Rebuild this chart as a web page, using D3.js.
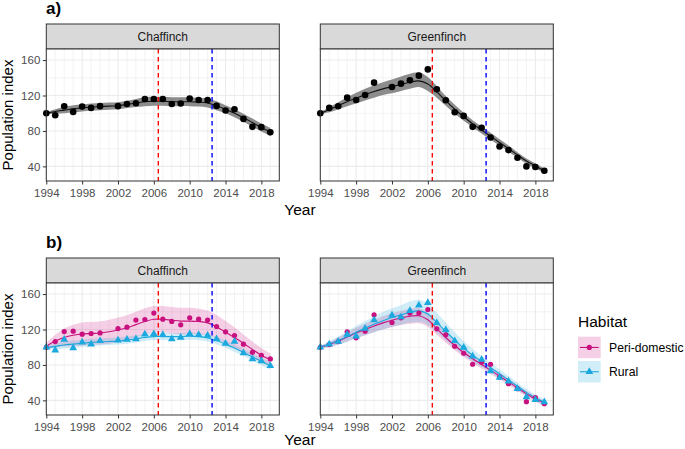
<!DOCTYPE html>
<html>
<head>
<meta charset="utf-8">
<script src="https://cdn.jsdelivr.net/npm/d3@7"></script>
<style>
  body { margin: 0; background: #fff; }
  svg text { font-family: "Liberation Sans", Arial, sans-serif; }
</style>
</head>
<body>
<div id="chart"></div>
<script>
// years of the smoothed trend and of the yearly indices (no survey in 2001)
const years = [1994, 1995, 1996, 1997, 1998, 1999, 2000, 2001, 2002, 2003, 2004, 2005, 2006,
               2007, 2008, 2009, 2010, 2011, 2012, 2013, 2014, 2015, 2016, 2017, 2018, 2019];
const ptYears = [1994, 1995, 1996, 1997, 1998, 1999, 2000, 2002, 2003, 2004, 2005, 2006,
                 2007, 2008, 2009, 2010, 2011, 2012, 2013, 2014, 2015, 2016, 2017, 2018, 2019];
const xTicks = [1994, 1998, 2002, 2006, 2010, 2014, 2018];
const yTicks = [40, 80, 120, 160];
const species = ["Chaffinch", "Greenfinch"];
const habitats = ["Peri-domestic", "Rural"];
const breakYears = [2006.5, 2012.5];

// a) all habitats
const chafPts = [100, 97.8, 107.9, 101.5, 107.5, 106, 108, 108, 110.5, 111.3, 116.1, 116, 116,
                 110.5, 110.9, 116.5, 115, 115, 108.3, 103, 104.5, 93.6, 84.6, 84.3, 78.6];
const chafFit = [100, 102, 103.5, 105, 106, 107, 107.5, 108, 108.5, 110, 111.5, 113, 113.5,
                 113.5, 113, 113, 113, 112.5, 111.5, 108.5, 104.5, 100, 95, 89.5, 84, 79];
const chafLo = [99, 99.5, 100, 101, 102, 103, 103.5, 104, 104.5, 106, 107, 108, 108.5,
                108.5, 108, 108, 108, 107.5, 106.5, 103.5, 100, 95.5, 90.5, 85, 79.5, 74.5];
const chafHi = [101, 104.5, 107, 109, 110, 111, 111.5, 112, 112.5, 114, 116, 118, 118.5,
                118.5, 118, 118, 118, 117.5, 116.5, 113.5, 109, 104.5, 99.5, 94, 88.5, 83.5];

const greenPts = [100, 106, 107.9, 117.6, 115, 120.6, 134.5, 129.6, 133.4, 137.1, 142.4, 149.5,
                  127, 114.6, 101.1, 97, 84.6, 83.5, 72.6, 62.5, 58.4, 49.8, 40, 39.3, 35.1];
const greenFit = [100, 104, 108.5, 113, 117, 121, 124.5, 127.5, 130, 132.5, 135, 136.5, 133,
                  124, 114, 104.5, 96, 88, 81, 74, 67, 60, 53, 46, 40.5, 35];
const greenLo = [99, 101, 104.5, 108, 111, 114.5, 117.5, 120.5, 122.5, 125, 127.5, 129.5, 125,
                 117.5, 108.5, 99.5, 91.5, 84, 77, 70, 63.5, 56.5, 50, 43, 37.5, 32.5];
const greenHi = [101, 107, 112.5, 118, 123, 127.5, 131.5, 135, 138, 141.5, 144.5, 146, 141,
                 130.5, 119.5, 109.5, 100.5, 92, 85, 78, 70.5, 63.5, 56, 49, 43.5, 37.5];

// b) by habitat
const chafPeriPts = [100, 106.4, 117.7, 118.1, 114.7, 115.5, 116.2, 121.1, 122.6, 130.6, 131.3, 138.5,
                     131.7, 129.1, 125.3, 133.2, 131.7, 130.6, 123.4, 117.4, 113.2, 103.4, 94.3, 90.9, 86.8];
const chafPeriFit = [101, 107, 111, 113.5, 115, 115.5, 116, 117.5, 119.5, 122, 125.5, 129, 131.5,
                     131.5, 130.5, 129.5, 129.5, 129, 127.5, 123, 117, 111, 104.5, 97.5, 91, 86];
const chafPeriLo = [97, 100, 101, 101.5, 102, 102.5, 103, 104, 105.5, 108, 111, 114, 116.5,
                    116.5, 115.5, 114.5, 114.5, 114.5, 113.5, 109.5, 104.5, 99.5, 94.5, 88.5, 83, 79];
const chafPeriHi = [105, 114, 121, 125.5, 128, 128.5, 129, 131, 133.5, 136, 140, 144, 146.5,
                    146.5, 145.5, 144.5, 144.5, 143.5, 141.5, 136.5, 129.5, 122.5, 114.5, 106.5, 99, 93];

const chafRurPts = [100, 96.6, 108.7, 99.2, 105.7, 103.4, 107.2, 107.9, 108.7, 109.4, 114.7, 115.1,
                    114, 109.4, 110.9, 115.1, 114, 113.2, 109.4, 104.2, 106.4, 93.6, 86.8, 84.5, 79.2];
const chafRurFit = [99.5, 101, 102.5, 103.5, 104.5, 105.5, 106, 106.5, 107, 108, 109.5, 111, 112,
                    112, 112, 112, 112.5, 112, 110.5, 107.5, 103.5, 99, 94, 89, 84, 79];
const chafRurLo = [97.5, 97.5, 98.5, 99.5, 100.5, 101.5, 102, 102.5, 103, 104, 105.5, 107, 108,
                   108, 108, 108, 108.5, 108, 106.5, 103.5, 99.5, 95, 90, 85, 80, 74.5];
const chafRurHi = [101.5, 104.5, 106.5, 107.5, 108.5, 109.5, 110, 110.5, 111, 112, 113.5, 115, 116,
                   116, 116, 116, 116.5, 116, 114.5, 111.5, 107.5, 103, 98, 93, 88, 83.5];

const greenPeriPts = [100, 103, 106.4, 117.4, 110.6, 118.1, 136.6, 127.9, 133.2, 138.5, 138.5, 142.6,
                      120.8, 114, 101.1, 93.2, 80.8, 83, 80.8, 66.4, 58.9, 53.2, 38.5, 43, 36.2];
const greenPeriFit = [100, 103, 107, 111.5, 116, 120, 124, 127.5, 130.5, 133, 135, 135.5, 131,
                      121, 111, 102, 94, 87, 80.5, 74, 67.5, 61, 54, 47.5, 41.5, 37];
const greenPeriLo = [98.5, 100, 103, 106.5, 110, 113.5, 117, 120, 122.5, 125, 126.5, 127, 123,
                     114, 105, 96.5, 89, 82.5, 76, 70, 63.5, 57.5, 50.5, 44.5, 38.5, 34];
const greenPeriHi = [101.5, 106, 111, 116.5, 122, 126.5, 131, 135, 138.5, 141, 143.5, 144, 139,
                     128, 117, 107.5, 99, 91.5, 85, 78, 71.5, 64.5, 57.5, 50.5, 44.5, 40];

const greenRurPts = [100, 103.4, 106.4, 114.3, 112.4, 121.1, 130.6, 136.2, 134, 141.1, 147.5, 150.2,
                     127.5, 119.6, 107.2, 99.6, 89.8, 86, 73.2, 65.7, 61.5, 53.2, 43.8, 40.8, 38.1];
const greenRurFit = [100, 103.5, 107.5, 112, 117, 121.5, 126, 130, 133.5, 136.5, 139.5, 141, 137.5,
                     128, 118, 108, 99, 91, 84, 77, 70, 63, 56, 49, 43, 38];
const greenRurLo = [98.5, 100.5, 103, 106, 110, 113.5, 117, 120, 123, 125.5, 127.5, 128.5, 125.5,
                    117, 108, 99, 91, 84, 78, 71.5, 65, 58.5, 52, 45, 39.5, 35];
const greenRurHi = [101.5, 106.5, 112, 118, 124, 129.5, 135, 140, 144, 147.5, 151.5, 153.5, 149.5,
                    139, 128, 117, 107, 98, 90, 82.5, 75, 67.5, 60, 53, 46.5, 41];

const pink = "#C8117F";
const blue = "#1BA8DE";

// ---- layout ----
const W = 685, H = 449;
const pw = 233, ph = 132, stripH = 25;
const colX = [46.3, 320.3];
const rowY = [24, 258];   // strip tops

const svg = d3.select("#chart").append("svg")
    .attr("width", W).attr("height", H);

const x = d3.scaleLinear().domain([1994, 2020]).range([0, pw]);
const y = d3.scaleLinear().domain([23.5, 172.5]).range([ph, 0]);

const line = d3.line().curve(d3.curveCatmullRom).x(d => x(d[0])).y(d => y(d[1]));
const band = d3.area().curve(d3.curveCatmullRom)
    .x(d => x(d[0])).y0(d => y(d[1])).y1(d => y(d[2]));

function drawFrame(col, row, title) {
    const g = svg.append("g")
        .attr("transform", `translate(${colX[col]},${rowY[row]})`);

    g.append("rect")
        .attr("width", pw).attr("height", stripH)
        .attr("fill", "#D9D9D9").attr("stroke", "#333").attr("stroke-width", 1);
    g.append("text")
        .attr("x", pw / 2).attr("y", stripH / 2).attr("dy", "0.35em")
        .attr("text-anchor", "middle").attr("font-size", 12).attr("fill", "#1A1A1A")
        .text(title);

    const p = g.append("g").attr("transform", `translate(0,${stripH})`);
    p.append("rect").attr("width", pw).attr("height", ph).attr("fill", "#fff");

    // grid: minor every year / between y majors, major on ticks
    const minorX = years.concat([2020]).filter(v => !xTicks.includes(v));
    p.append("g").selectAll("line").data(minorX).join("line")
        .attr("x1", d => x(d)).attr("x2", d => x(d)).attr("y1", 0).attr("y2", ph)
        .attr("stroke", "#EBEBEB").attr("stroke-width", 0.6);
    p.append("g").selectAll("line").data([60, 100, 140]).join("line")
        .attr("y1", d => y(d)).attr("y2", d => y(d)).attr("x1", 0).attr("x2", pw)
        .attr("stroke", "#EBEBEB").attr("stroke-width", 0.6);
    p.append("g").selectAll("line").data(xTicks).join("line")
        .attr("x1", d => x(d)).attr("x2", d => x(d)).attr("y1", 0).attr("y2", ph)
        .attr("stroke", "#EBEBEB").attr("stroke-width", 1.1);
    p.append("g").selectAll("line").data(yTicks).join("line")
        .attr("y1", d => y(d)).attr("y2", d => y(d)).attr("x1", 0).attr("x2", pw)
        .attr("stroke", "#EBEBEB").attr("stroke-width", 1.1);

    // x axis
    const xa = p.append("g").attr("transform", `translate(0,${ph})`)
        .call(d3.axisBottom(x).tickValues(xTicks).tickFormat(d3.format("d")).tickSize(3.5).tickPadding(4.5));
    styleAxis(xa);

    if (col === 0) {
        const ya = p.append("g")
            .call(d3.axisLeft(y).tickValues(yTicks).tickSize(3.5).tickPadding(2.5));
        styleAxis(ya);
    }
    return p;
}

function styleAxis(a) {
    a.select(".domain").remove();
    a.selectAll(".tick line").attr("stroke", "#333").attr("stroke-width", 1);
    a.selectAll(".tick text").attr("fill", "#4D4D4D").attr("font-size", 11.5)
        .style("font-family", '"Liberation Sans", Arial, sans-serif');
}

function drawBreaks(p) {
    p.append("line")
        .attr("x1", x(breakYears[0])).attr("x2", x(breakYears[0])).attr("y1", 0).attr("y2", ph)
        .attr("stroke", "#FF0000").attr("stroke-width", 1.4).attr("stroke-dasharray", "4.5,3.5");
    p.append("line")
        .attr("x1", x(breakYears[1])).attr("x2", x(breakYears[1])).attr("y1", 0).attr("y2", ph)
        .attr("stroke", "#0000FF").attr("stroke-width", 1.4).attr("stroke-dasharray", "4.5,3.5");
}

function border(p) {
    p.append("rect").attr("width", pw).attr("height", ph)
        .attr("fill", "none").attr("stroke", "#333").attr("stroke-width", 1);
}

const zip3 = (a, b) => years.map((yr, i) => [yr, a[i], b[i]]);
const zip2 = (a) => years.map((yr, i) => [yr, a[i]]);
const zipPts = (a) => ptYears.map((yr, i) => [yr, a[i]]);

// ---- a) ----
[[chafPts, chafFit, chafLo, chafHi], [greenPts, greenFit, greenLo, greenHi]].forEach((s, col) => {
    const p = drawFrame(col, 0, species[col]);
    p.append("path").datum(zip3(s[2], s[3])).attr("d", band).attr("fill", "#8C8C8C");
    p.append("path").datum(zip2(s[1])).attr("d", line)
        .attr("fill", "none").attr("stroke", "#111").attr("stroke-width", 1.1);
    drawBreaks(p);
    p.append("g").selectAll("circle").data(zipPts(s[0])).join("circle")
        .attr("cx", d => x(d[0])).attr("cy", d => y(d[1])).attr("r", 3.3).attr("fill", "#000");
    border(p);
});

// ---- b) ----
const tri = d3.symbol().type(d3.symbolTriangle).size(26);
[
    [[chafPeriPts, chafPeriFit, chafPeriLo, chafPeriHi], [chafRurPts, chafRurFit, chafRurLo, chafRurHi]],
    [[greenPeriPts, greenPeriFit, greenPeriLo, greenPeriHi], [greenRurPts, greenRurFit, greenRurLo, greenRurHi]]
].forEach((grp, col) => {
    const p = drawFrame(col, 1, species[col]);
    const cols = [pink, blue];
    grp.forEach((s, k) => {
        p.append("path").datum(zip3(s[2], s[3])).attr("d", band)
            .attr("fill", cols[k]).attr("fill-opacity", 0.2);
    });
    grp.forEach((s, k) => {
        p.append("path").datum(zip2(s[1])).attr("d", line)
            .attr("fill", "none").attr("stroke", cols[k]).attr("stroke-width", 1.1);
    });
    drawBreaks(p);
    p.append("g").selectAll("circle").data(zipPts(grp[0][0])).join("circle")
        .attr("cx", d => x(d[0])).attr("cy", d => y(d[1])).attr("r", 2.6).attr("fill", pink);
    p.append("g").selectAll("path").data(zipPts(grp[1][0])).join("path")
        .attr("d", tri).attr("fill", blue)
        .attr("transform", d => `translate(${x(d[0])},${y(d[1])})`);
    border(p);
});

// ---- titles ----
svg.append("text").attr("x", 46).attr("y", 14).attr("font-size", 17).attr("font-weight", "bold").text("a)");
svg.append("text").attr("x", 46).attr("y", 248).attr("font-size", 17).attr("font-weight", "bold").text("b)");
svg.append("text").attr("x", 300).attr("y", 215).attr("text-anchor", "middle").attr("font-size", 15.5).text("Year");
svg.append("text").attr("x", 300).attr("y", 445).attr("text-anchor", "middle").attr("font-size", 15.5).text("Year");
[rowY[0] + stripH + ph / 2, rowY[1] + stripH + ph / 2].forEach(cy => {
    svg.append("text")
        .attr("transform", `translate(12.5,${cy}) rotate(-90)`)
        .attr("text-anchor", "middle").attr("font-size", 15).text("Population index");
});

// ---- legend ----
const lg = svg.append("g").attr("transform", "translate(578,0)");
lg.append("text").attr("x", 0).attr("y", 327).attr("font-size", 15.5).text("Habitat");
habitats.forEach((h, i) => {
    const ky = 336.7 + i * 24.3;
    const c = i === 0 ? pink : blue;
    lg.append("rect").attr("x", 0).attr("y", ky).attr("width", 22.7).attr("height", 21.5)
        .attr("fill", c).attr("fill-opacity", 0.2);
    lg.append("line").attr("x1", 2).attr("x2", 20.7).attr("y1", ky + 10.75).attr("y2", ky + 10.75)
        .attr("stroke", c).attr("stroke-width", 1.1);
    if (i === 0) {
        lg.append("circle").attr("cx", 11.35).attr("cy", ky + 10.75).attr("r", 2.6).attr("fill", c);
    } else {
        lg.append("path").attr("d", tri).attr("fill", c)
            .attr("transform", `translate(11.35,${ky + 10.75})`);
    }
    lg.append("text").attr("x", 31).attr("y", ky + 10.75).attr("dy", "0.35em")
        .attr("font-size", 12.2).text(h);
});
</script>
</body>
</html>
